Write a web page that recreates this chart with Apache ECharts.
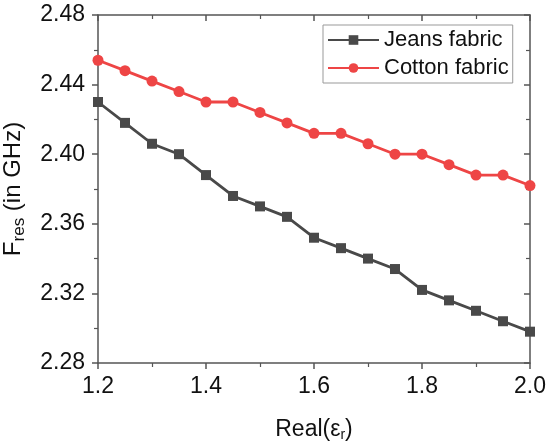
<!DOCTYPE html>
<html>
<head>
<meta charset="utf-8">
<script src="https://cdn.jsdelivr.net/npm/echarts@6/dist/echarts.min.js"></script>
<style>html,body{margin:0;padding:0;background:#fff;}#c{width:550px;height:444px;}</style>
</head>
<body>
<div id="c"></div>
<script>
const xValues = [1.2, 1.25, 1.3, 1.35, 1.4, 1.45, 1.5, 1.55, 1.6, 1.65, 1.7, 1.75, 1.8, 1.85, 1.9, 1.95, 2.0];
const jeans = [2.430, 2.418, 2.406, 2.400, 2.388, 2.376, 2.370, 2.364, 2.352, 2.346, 2.340, 2.334, 2.322, 2.316, 2.310, 2.304, 2.298];
const cotton = [2.454, 2.448, 2.442, 2.436, 2.430, 2.430, 2.424, 2.418, 2.412, 2.412, 2.406, 2.400, 2.400, 2.394, 2.388, 2.388, 2.382];
const seriesNames = ['Jeans fabric', 'Cotton fabric'];

const font = 'Liberation Sans, Arial, sans-serif';
const axisColor = '#555';
const chart = echarts.init(document.getElementById('c'));
const pairs = arr => xValues.map((x, i) => [x, arr[i]]);

chart.setOption({
  animation: false,
  textStyle: { fontFamily: font },
  grid: { left: 98, right: 20, top: 15, bottom: 81, containLabel: false, outerBoundsMode: 'none' },
  legend: {
    left: 323, top: 25,
    orient: 'vertical',
    data: seriesNames,
    borderColor: '#999', borderWidth: 1, borderRadius: 0,
    padding: [4, 4, 4, 4],
    itemWidth: 51, itemHeight: 12, itemGap: 6,
    textStyle: { fontSize: 22, color: '#111', fontFamily: font, lineHeight: 22 }
  },
  xAxis: [{
    type: 'value', min: 1.2, max: 2.0, interval: 0.2,
    name: 'Real(ε{sub|r})', nameLocation: 'middle', nameGap: 54, nameMoveOverlap: false,
    nameTextStyle: {
      fontSize: 23, color: '#111', fontFamily: font,
      rich: { sub: { fontSize: 14, color: '#111', padding: [11, 0, 0, 0], fontFamily: font } }
    },
    axisLine: { show: true, lineStyle: { color: axisColor, width: 1.5 } },
    axisTick: { show: true, inside: false, length: 6, lineStyle: { color: axisColor, width: 1.5 } },
    minorTick: { show: true, splitNumber: 2, length: 4, lineStyle: { color: axisColor, width: 1.2 } },
    axisLabel: { fontSize: 23, color: '#111', margin: 12, fontFamily: font, formatter: v => v.toFixed(1) },
    splitLine: { show: false }
  }, {
    type: 'value', position: 'top', min: 1.2, max: 2.0, interval: 0.2,
    axisLine: { show: true, lineStyle: { color: axisColor, width: 1.5 } },
    axisTick: { show: true, inside: true, length: 6, lineStyle: { color: axisColor, width: 1.5 } },
    minorTick: { show: true, splitNumber: 2, length: 4, lineStyle: { color: axisColor, width: 1.2 } },
    axisLabel: { show: false }, splitLine: { show: false }
  }],
  yAxis: [{
    type: 'value', min: 2.28, max: 2.48, interval: 0.04,
    name: 'F{sub|res} (in GHz)', nameLocation: 'middle', nameGap: 70, nameRotate: 90, nameMoveOverlap: false,
    nameTextStyle: {
      fontSize: 24, color: '#111', fontFamily: font,
      rich: { sub: { fontSize: 17, color: '#111', padding: [12, 0, 0, 0], fontFamily: font } }
    },
    axisLine: { show: true, lineStyle: { color: axisColor, width: 1.5 } },
    axisTick: { show: true, inside: false, length: 6, lineStyle: { color: axisColor, width: 1.5 } },
    minorTick: { show: true, splitNumber: 2, length: 4, lineStyle: { color: axisColor, width: 1.2 } },
    axisLabel: { fontSize: 23, color: '#111', margin: 13, fontFamily: font, formatter: v => v.toFixed(2) },
    splitLine: { show: false }
  }, {
    type: 'value', position: 'right', min: 2.28, max: 2.48, interval: 0.04,
    axisLine: { show: true, lineStyle: { color: axisColor, width: 1.5 } },
    axisTick: { show: true, inside: true, length: 6, lineStyle: { color: axisColor, width: 1.5 } },
    minorTick: { show: true, splitNumber: 2, length: 4, lineStyle: { color: axisColor, width: 1.2 } },
    axisLabel: { show: false }, splitLine: { show: false }
  }],
  series: [{
    name: seriesNames[0], type: 'line', data: pairs(jeans),
    xAxisIndex: 0, yAxisIndex: 0,
    symbol: 'rect', symbolSize: 10,
    lineStyle: { color: '#494949', width: 2.8 },
    itemStyle: { color: '#494949' },
    z: 2
  }, {
    name: seriesNames[1], type: 'line', data: pairs(cotton),
    xAxisIndex: 0, yAxisIndex: 0,
    symbol: 'circle', symbolSize: 11,
    lineStyle: { color: '#ee4545', width: 2.8 },
    itemStyle: { color: '#ee4545' },
    z: 2
  }]
});
</script>
</body>
</html>
